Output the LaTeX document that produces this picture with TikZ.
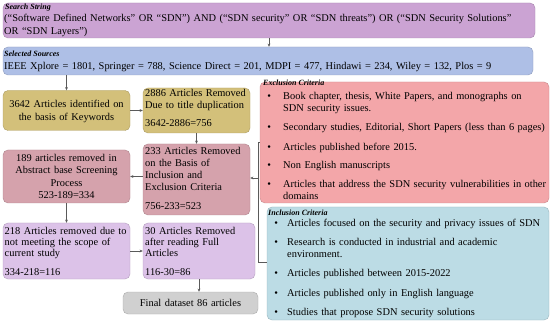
\documentclass[tikz,border=0pt]{standalone}
\usepackage{fontspec}
\setmainfont{Liberation Serif}
\usetikzlibrary{arrows.meta}
\definecolor{cSearch}{HTML}{CBA3D3}
\definecolor{cSrc}{HTML}{AEBFE6}
\definecolor{cKhaki}{HTML}{D3C07A}
\definecolor{cRose}{HTML}{D5A2AC}
\definecolor{cLav}{HTML}{DCC2E8}
\definecolor{cGray}{HTML}{D0D0D0}
\definecolor{cExcl}{HTML}{F3A6A9}
\definecolor{cIncl}{HTML}{BCDCE5}
\definecolor{cLine}{HTML}{5A5A5A}
\begin{document}
\begin{tikzpicture}[x=1pt,y=-1pt,
  box/.style={draw=#1!82!black, line width=0.4pt, fill=#1, rounded corners=5pt, inner sep=0pt},
  txt/.style={inner sep=0pt, anchor=base west, align=left, text width=#1,
              font=\fontsize{10.4}{11.7}\selectfont},
  ctxt/.style={inner sep=0pt, anchor=base, align=center, text width=#1,
              font=\fontsize{10.4}{12.5}\selectfont},
  hdr/.style={inner sep=0pt, anchor=base west, font=\fontsize{8}{9}\selectfont\bfseries\itshape},
  arr/.style={draw=cLine, line width=0.5pt, -{Stealth[length=3.2pt,width=2.8pt]}},
  brk/.style={draw=cLine, line width=0.5pt}
]
\useasboundingbox (0,0) rectangle (550,321);

% boxes
\node[box=cSearch, minimum width=532, minimum height=35] (search) at (269,20.5) {};
\node[box=cSrc, minimum width=530, minimum height=28] (sources) at (268,61) {};
\node[box=cKhaki, minimum width=127, minimum height=40] (kw) at (66.5,110.5) {};
\node[box=cKhaki, minimum width=107, minimum height=45] (dup) at (196.5,110.5) {};
\node[box=cRose, minimum width=107, minimum height=71] (ie) at (196.5,179.5) {};
\node[box=cRose, minimum width=127, minimum height=53] (abs) at (66.5,176.5) {};
\node[box=cLav, minimum width=127, minimum height=56] (scope) at (66.5,251) {};
\node[box=cLav, minimum width=112, minimum height=56] (full) at (199,251) {};
\node[box=cGray, minimum width=135, minimum height=22] (final) at (190.5,303) {};
\node[box=cExcl, minimum width=289, minimum height=121] (excl) at (404.5,142.5) {};
\node[box=cIncl, minimum width=282, minimum height=113] (incl) at (408,263.5) {};

% texts
\node[hdr] (searchH) at (5,9.5) {Search String};
\node[txt=540, font=\fontsize{10.4}{12.5}\selectfont] (searchT) at (4,22)
  {(“Software Defined Networks” OR “SDN”) AND (“SDN security” OR “SDN threats”) OR (“SDN Security Solutions”\\OR “SDN Layers”)};
\node[hdr] (srcH) at (4,56.5) {Selected Sources};
\node[txt=540] (srcT) at (4,70)
  {IEEE Xplore = 1801, Springer = 788, Science Direct = 201, MDPI = 477, Hindawi = 234, Wiley = 132, Plos = 9};

\node[ctxt=127] (kwT) at (66.5,108) {3642 Articles identified on\\the basis of Keywords};
\node[txt=140, font=\fontsize{10.4}{11.5}\selectfont] (dupT) at (145,97) {2886 Articles Removed\\Due to title duplication};
\node[txt=140] (dupN) at (145,127) {3642-2886=756};
\node[txt=140] (ieT) at (145,155) {233 Articles Removed\\on the Basis of\\Inclusion and\\Exclusion Criteria};
\node[txt=140] (ieN) at (145,209) {756-233=523};
\node[ctxt=127] (absT) at (66.5,161) {189 articles removed in\\Abstract base Screening\\Process\\523-189=334};
\node[txt=140, font=\fontsize{10.4}{11.3}\selectfont] (scopeT) at (4.5,234) {218 Articles removed due to\\not meeting the scope of\\current study};
\node[txt=140] (scopeN) at (4.5,275) {334-218=116};
\node[txt=140, font=\fontsize{10.4}{11.3}\selectfont] (fullT) at (145,234) {30 Articles Removed\\after reading Full\\Articles};
\node[txt=140] (fullN) at (145,275) {116-30=86};
\node[ctxt=135] (finalT) at (190.5,306.5) {Final dataset 86 articles};

% exclusion
\node[hdr] (exclH) at (263,86) {Exclusion Criteria};
\node[txt=300, font=\fontsize{10.4}{11.5}\selectfont] (e1) at (283,100) {\leavevmode\llap{•\hspace{12.2pt}}Book chapter, thesis, White Papers, and monographs on\\SDN security issues.};
\node[txt=300] (e2) at (283,131) {\leavevmode\llap{•\hspace{12.2pt}}Secondary studies, Editorial, Short Papers (less than 6 pages)};
\node[txt=300] (e3) at (283,150) {\leavevmode\llap{•\hspace{12.2pt}}Articles published before 2015.};
\node[txt=300] (e4) at (283,169) {\leavevmode\llap{•\hspace{12.2pt}}Non English manuscripts};
\node[txt=300, font=\fontsize{10.4}{11.5}\selectfont] (e5) at (283,188) {\leavevmode\llap{•\hspace{12.2pt}}Articles that address the SDN security vulnerabilities in other\\domains};

% inclusion
\node[hdr] (inclH) at (268,215) {Inclusion Criteria};
\node[txt=300] (i1) at (287,226.5) {\leavevmode\llap{•\hspace{9.2pt}}Articles focused on the security and privacy issues of SDN};
\node[txt=300, font=\fontsize{10.4}{12}\selectfont] (i2) at (287,245.5) {\leavevmode\llap{•\hspace{9.2pt}}Research is conducted in industrial and academic\\environment.};
\node[txt=300] (i3) at (287,276.5) {\leavevmode\llap{•\hspace{9.2pt}}Articles published between 2015-2022};
\node[txt=300] (i4) at (287,296) {\leavevmode\llap{•\hspace{9.2pt}}Articles published only in English language};
\node[txt=300] (i5) at (287,315) {\leavevmode\llap{•\hspace{9.2pt}}Studies that propose SDN security solutions};

% connectors
\draw[arr] (search.south) -- (search.south |- sources.north);
\draw[arr] (kw.north |- sources.south) -- (kw.north);
\draw[arr] (kw.east) -- (kw.east -| dup.west);
\draw[arr] (dup.south) -- (dup.south |- ie.north);
\draw[arr] (ie.west |- abs.east) -- (abs.east);
\draw[arr] (abs.south) -- (scope.north);
\draw[arr] (scope.east) -- (full.west);
\draw[arr] (full.south) -- (full.south |- final.north);

\coordinate (bt) at (258,142);
\coordinate (bb) at (258,262);
\coordinate (bm) at (258,178);
\draw[brk] (excl.west |- bt) -- (bt) -- (bb) -- (incl.west |- bb);
\draw[arr] (bm) -- (ie.east |- bm);
\end{tikzpicture}
\end{document}
